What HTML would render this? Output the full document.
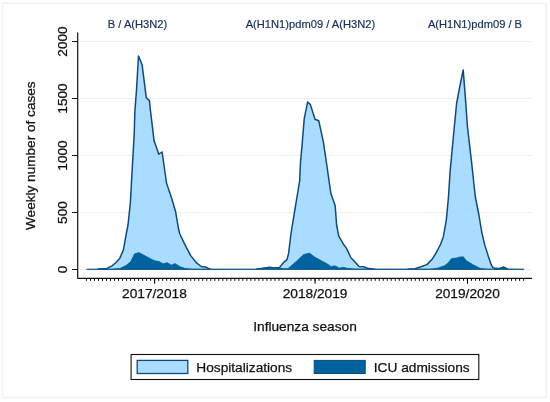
<!DOCTYPE html>
<html><head><meta charset="utf-8"><title>Influenza season</title>
<style>
html,body{margin:0;padding:0;background:#fff;}
svg{display:block;font-family:"Liberation Sans",Arial,sans-serif;}
</style></head><body>
<svg width="550" height="402" viewBox="0 0 550 402">
<rect width="550" height="402" fill="#fff"/>
<rect x="2.6" y="3.2" width="543.5" height="394.4" fill="none" stroke="#edf4f6" stroke-width="1.5"/>
<path d="M79.5 41.5H532M79.5 98.5H532M79.5 155.5H532M79.5 212.5H532M79.5 269.5H532" stroke="#e4eef2" stroke-width="0.9" fill="none"/>
<polygon points="86.5,269.3 98.0,269.0 106.9,268.4 112.1,265.8 116.0,262.5 119.6,258.6 123.3,250.4 126.2,234.1 128.0,225.0 130.4,202.4 131.5,182.0 134.2,134.3 134.9,111.0 136.5,90.0 138.5,56.0 142.1,64.8 146.3,97.8 149.4,100.6 150.4,110.0 154.1,140.8 158.8,154.2 162.1,152.0 166.5,183.0 171.8,198.7 175.6,211.7 178.0,226.0 179.6,233.5 184.8,244.4 190.7,255.6 196.0,262.3 201.2,266.5 205.7,267.1 210.1,269.2 256.3,269.2 269.7,267.2 274.2,268.0 279.4,267.6 283.3,262.8 287.0,259.6 288.6,253.4 290.8,235.0 292.4,225.0 294.5,212.2 299.7,180.5 300.5,162.0 302.0,146.0 304.2,118.9 307.6,102.1 310.4,104.6 315.0,119.3 318.8,120.8 323.4,142.2 326.5,163.0 330.9,193.6 335.2,205.7 336.6,225.0 338.7,235.8 343.1,243.7 346.4,248.1 350.9,257.8 353.9,260.8 359.1,266.5 363.6,266.8 367.3,268.3 374.8,269.2 408.0,269.2 414.9,268.7 420.9,266.8 426.9,264.6 432.1,259.3 435.8,253.4 440.5,244.5 443.3,236.9 444.5,230.4 446.4,219.3 448.4,198.0 450.1,171.6 454.2,128.0 456.6,103.5 459.4,88.6 463.2,69.9 465.4,97.9 467.5,127.0 471.6,162.3 475.2,196.0 479.0,215.5 481.8,232.3 484.6,244.4 488.4,256.6 490.9,263.9 492.4,266.9 494.6,268.3 499.1,268.6 503.6,267.0 507.3,268.8 524.2,269.3" fill="#a9dcfe"/>
<g fill="none" stroke="#0f4a7a" stroke-width="1.5" stroke-linejoin="round" stroke-linecap="round">
<polyline points="98.0,269.0 106.9,268.4 112.1,265.8 116.0,262.5 119.6,258.6 123.3,250.4 126.2,234.1 128.0,225.0 130.4,202.4 131.5,182.0 134.2,134.3 134.9,111.0 136.5,90.0 138.5,56.0 142.1,64.8 146.3,97.8 149.4,100.6 150.4,110.0 154.1,140.8 158.8,154.2 162.1,152.0 166.5,183.0 171.8,198.7 175.6,211.7 178.0,226.0 179.6,233.5 184.8,244.4 190.7,255.6 196.0,262.3 201.2,266.5 205.7,267.1 210.1,269.2"/>
<polyline points="256.3,269.2 269.7,267.2 274.2,268.0 279.4,267.6 283.3,262.8 287.0,259.6 288.6,253.4 290.8,235.0 292.4,225.0 294.5,212.2 299.7,180.5 300.5,162.0 302.0,146.0 304.2,118.9 307.6,102.1 310.4,104.6 315.0,119.3 318.8,120.8 323.4,142.2 326.5,163.0 330.9,193.6 335.2,205.7 336.6,225.0 338.7,235.8 343.1,243.7 346.4,248.1 350.9,257.8 353.9,260.8 359.1,266.5 363.6,266.8 367.3,268.3 374.8,269.2"/>
<polyline points="408.0,269.2 414.9,268.7 420.9,266.8 426.9,264.6 432.1,259.3 435.8,253.4 440.5,244.5 443.3,236.9 444.5,230.4 446.4,219.3 448.4,198.0 450.1,171.6 454.2,128.0 456.6,103.5 459.4,88.6 463.2,69.9 465.4,97.9 467.5,127.0 471.6,162.3 475.2,196.0 479.0,215.5 481.8,232.3 484.6,244.4 488.4,256.6 490.9,263.9 492.4,266.9 494.6,268.3 499.1,268.6 503.6,267.0 507.3,268.8"/>
</g>
<polygon points="86.5,269.3 112.0,269.1 120.3,268.3 126.3,265.3 130.7,261.6 134.5,253.8 139.0,252.6 142.7,254.4 147.5,257.1 151.6,259.3 154.9,260.8 159.4,261.6 163.1,263.8 166.9,262.6 171.3,265.0 175.1,263.5 180.3,266.8 184.8,268.3 192.2,269.1 256.3,269.2 269.7,267.4 274.2,268.1 279.4,267.8 284.0,268.8 287.9,268.6 296.1,261.6 303.6,254.4 309.6,253.1 314.8,257.1 321.5,260.8 327.5,264.1 331.2,266.5 334.9,265.7 339.4,268.0 343.1,267.2 347.6,268.3 355.0,269.0 430.0,269.1 437.0,268.2 444.8,265.6 448.4,262.6 451.5,258.5 456.3,258.0 460.0,256.9 463.3,256.7 466.2,260.5 472.8,264.5 480.0,268.2 488.4,269.2 495.0,269.0 499.5,268.5 503.6,267.5 507.3,268.9 524.2,269.3" fill="#0063a0" stroke="#005a94" stroke-width="0.6" stroke-linejoin="round"/>
<path d="M87.5 269.4H524" stroke="#1a5484" stroke-width="0.85" fill="none"/>
<path d="M77.7 32.4V278.35H532" stroke="#111" stroke-width="1.2" fill="none" stroke-linejoin="round"/>
<path d="M72.0 41.5H77.7M72.0 98.5H77.7M72.0 155.5H77.7M72.0 212.5H77.7M72.0 269.5H77.7" stroke="#111" stroke-width="1.2" fill="none"/>
<path d="M86.45 278.3V280.9M90.46 278.3V280.9M94.47 278.3V280.9M98.48 278.3V280.9M102.49 278.3V280.9M106.50 278.3V280.9M110.51 278.3V280.9M114.52 278.3V280.9M118.53 278.3V280.9M122.54 278.3V280.9M126.56 278.3V280.9M130.57 278.3V280.9M134.58 278.3V280.9M138.59 278.3V280.9M142.60 278.3V280.9M146.61 278.3V280.9M150.62 278.3V280.9M154.63 278.3V280.9M158.64 278.3V280.9M162.65 278.3V280.9M166.66 278.3V280.9M170.67 278.3V280.9M174.68 278.3V280.9M178.69 278.3V280.9M182.70 278.3V280.9M186.71 278.3V280.9M190.72 278.3V280.9M194.73 278.3V280.9M198.74 278.3V280.9M202.75 278.3V280.9M206.77 278.3V280.9M210.78 278.3V280.9M214.79 278.3V280.9M218.80 278.3V280.9M222.81 278.3V280.9M226.82 278.3V280.9M230.83 278.3V280.9M234.84 278.3V280.9M238.85 278.3V280.9M242.86 278.3V280.9M246.87 278.3V280.9M250.88 278.3V280.9M254.89 278.3V280.9M258.90 278.3V280.9M262.91 278.3V280.9M266.92 278.3V280.9M270.93 278.3V280.9M274.94 278.3V280.9M278.95 278.3V280.9M282.96 278.3V280.9M286.98 278.3V280.9M290.99 278.3V280.9M295.00 278.3V280.9M299.01 278.3V280.9M303.02 278.3V280.9M307.03 278.3V280.9M311.04 278.3V280.9M315.05 278.3V280.9M319.06 278.3V280.9M323.07 278.3V280.9M327.08 278.3V280.9M331.09 278.3V280.9M335.10 278.3V280.9M339.11 278.3V280.9M343.12 278.3V280.9M347.13 278.3V280.9M351.14 278.3V280.9M355.15 278.3V280.9M359.16 278.3V280.9M363.17 278.3V280.9M367.19 278.3V280.9M371.20 278.3V280.9M375.21 278.3V280.9M379.22 278.3V280.9M383.23 278.3V280.9M387.24 278.3V280.9M391.25 278.3V280.9M395.26 278.3V280.9M399.27 278.3V280.9M403.28 278.3V280.9M407.29 278.3V280.9M411.30 278.3V280.9M415.31 278.3V280.9M419.32 278.3V280.9M423.33 278.3V280.9M427.34 278.3V280.9M431.35 278.3V280.9M435.36 278.3V280.9M439.37 278.3V280.9M443.38 278.3V280.9M447.40 278.3V280.9M451.41 278.3V280.9M455.42 278.3V280.9M459.43 278.3V280.9M463.44 278.3V280.9M467.45 278.3V280.9M471.46 278.3V280.9M475.47 278.3V280.9M479.48 278.3V280.9M483.49 278.3V280.9M487.50 278.3V280.9M491.51 278.3V280.9M495.52 278.3V280.9M499.53 278.3V280.9M503.54 278.3V280.9M507.55 278.3V280.9M511.56 278.3V280.9M515.57 278.3V280.9M519.58 278.3V280.9M523.59 278.3V280.9" stroke="#111" stroke-width="1" fill="none"/>
<path d="M154.63 278.3V283.7M315.05 278.3V283.7M467.45 278.3V283.7" stroke="#111" stroke-width="1.1" fill="none"/>
<g fill="#111" stroke="#111" stroke-width="0.25"><text transform="translate(66.6 41.5) rotate(-90)" text-anchor="middle" font-size="13.7">2000</text><text transform="translate(66.6 98.5) rotate(-90)" text-anchor="middle" font-size="13.7">1500</text><text transform="translate(66.6 155.5) rotate(-90)" text-anchor="middle" font-size="13.7">1000</text><text transform="translate(66.6 212.5) rotate(-90)" text-anchor="middle" font-size="13.7">500</text><text transform="translate(66.6 269.5) rotate(-90)" text-anchor="middle" font-size="13.7">0</text>
<text transform="translate(35 155.7) rotate(-90)" text-anchor="middle" font-size="13.6">Weekly number of cases</text>
<text x="154.4" y="298.2" text-anchor="middle" font-size="13.7">2017/2018</text>
<text x="315.1" y="298.2" text-anchor="middle" font-size="13.7">2018/2019</text>
<text x="467.5" y="298.2" text-anchor="middle" font-size="13.7">2019/2020</text>
<text x="305" y="331.3" text-anchor="middle" font-size="13.7">Influenza season</text>
</g>
<g fill="#18305a" stroke="#18305a" stroke-width="0.2" font-size="11.15">
<text x="137.5" y="28.2" text-anchor="middle">B / A(H3N2)</text>
<text x="310.4" y="28.2" text-anchor="middle">A(H1N1)pdm09 / A(H3N2)</text>
<text x="475" y="28.2" text-anchor="middle">A(H1N1)pdm09 / B</text>
</g>
<rect x="131.1" y="354.5" width="347.7" height="25" fill="#fff" stroke="#111" stroke-width="1.1"/>
<rect x="137.2" y="360.4" width="50.6" height="13.1" fill="#a9dcfe" stroke="#0f4a7a" stroke-width="1.3"/>
<rect x="314.2" y="360.4" width="51" height="13.1" fill="#0063a0" stroke="#0f4a7a" stroke-width="1"/>
<g fill="#111" stroke="#111" stroke-width="0.25" font-size="13.7">
<text x="196.3" y="372.3">Hospitalizations</text>
<text x="373.8" y="372.3">ICU admissions</text>
</g>
</svg>
</body></html>
